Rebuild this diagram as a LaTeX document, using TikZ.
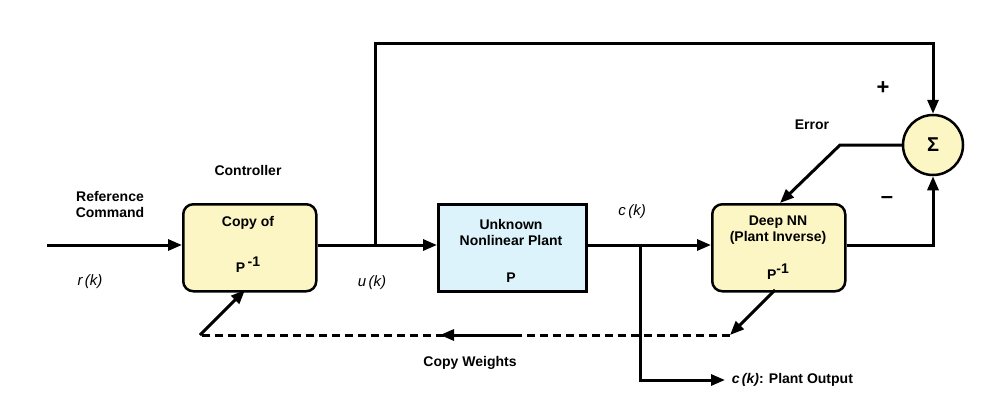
\documentclass[tikz,border=0pt]{standalone}
\usepackage{fontspec}
\setmainfont{Liberation Sans}
\usetikzlibrary{arrows.meta}
\definecolor{ylw}{HTML}{FBF6C4}
\definecolor{blu}{HTML}{DDF3FB}
\begin{document}
\begin{tikzpicture}[x=1pt,y=-1pt,
  line width=3pt,
  >={Triangle[length=14pt,width=11pt]},
  blk/.style={draw,line width=2.5pt,minimum width=133pt,minimum height=87pt,anchor=north west,inner sep=0pt},
  lbl/.style={font=\fontsize{14}{16}\selectfont\bfseries,align=center},
  it/.style={font=\fontsize{15}{17}\selectfont\itshape}]
\useasboundingbox (0,0) rectangle (1000,400);
\node[blk,fill=ylw,rounded corners=10pt] (ctl) at (182,203) {};
\node[lbl] (ctlt) at (248,223) {Copy of};
\node[lbl] (ctlp) at (248,265) {P\,\raisebox{6pt}{-1}};
\node[blk,fill=blu,minimum width=148pt] (pl) at (437,203) {};
\node[lbl] (plt) at (511,232) {Unknown\\Nonlinear Plant};
\node[lbl] (plp) at (511,278) {P};
\node[blk,fill=ylw,rounded corners=10pt] (nn) at (711,203) {};
\node[lbl] (nnt) at (778,230) {Deep NN\\(Plant Inverse)};
\node[lbl] (nnp) at (778,272) {P\raisebox{6pt}{-1}};
\node[draw,circle,fill=ylw,line width=2.5pt,minimum size=60pt,inner sep=0pt,font=\fontsize{20}{22}\selectfont\bfseries] (sum) at (933,145) {Σ};
\coordinate (in) at (47,245);
\coordinate (br) at (375,245);
\coordinate (top) at (375,43);
\coordinate (cj) at (640,245);
\coordinate (cout) at (725,380);
\coordinate (ek) at (840,145);
\coordinate (nb) at (775,290);
\coordinate (dr) at (730,335);
\coordinate (dl) at (200,335);
\coordinate (cb) at (245,290);
\draw[->] (in) -- (ctl.west |- in);
\draw (ctl.east |- br) -- (br);
\draw[->] (br) -- (pl.west |- br);
\draw[->] (br) -- (top) -| (sum.north);
\draw[->] (pl.east |- cj) -- (nn.west |- cj);
\draw[->] (cj) |- (cout);
\draw[->] (nn.east |- cj) -| (sum.south);
\draw[->] (sum.west) -- (ek) -- (780,203);
\draw[->] (nb) -- (dr);
\draw[dash pattern=on 8pt off 5pt] (dr) -- (dl);
\draw[->] (515,335) -- (440,335);
\draw[->] (dl) -- (cb);
\node[lbl] (tc) at (248,170) {Controller};
\node[lbl] (tr) at (110,204) {Reference\\Command};
\node[it] (rk) at (90,282) {r\,(k)};
\node[it] (uk) at (372,283) {u\,(k)};
\node[it] (ck) at (632,212) {c\,(k)};
\node[lbl,anchor=west] (po) at (727,380) {\textit{c\,(k)}: Plant Output};
\node[font=\fontsize{22}{24}\selectfont\bfseries] (plus) at (883,88) {+};
\node[font=\fontsize{22}{24}\selectfont\bfseries] (minus) at (887,200) {–};
\node[lbl] (err) at (812,125) {Error};
\node[lbl] (cw) at (470,363) {Copy Weights};
\end{tikzpicture}
\end{document}
